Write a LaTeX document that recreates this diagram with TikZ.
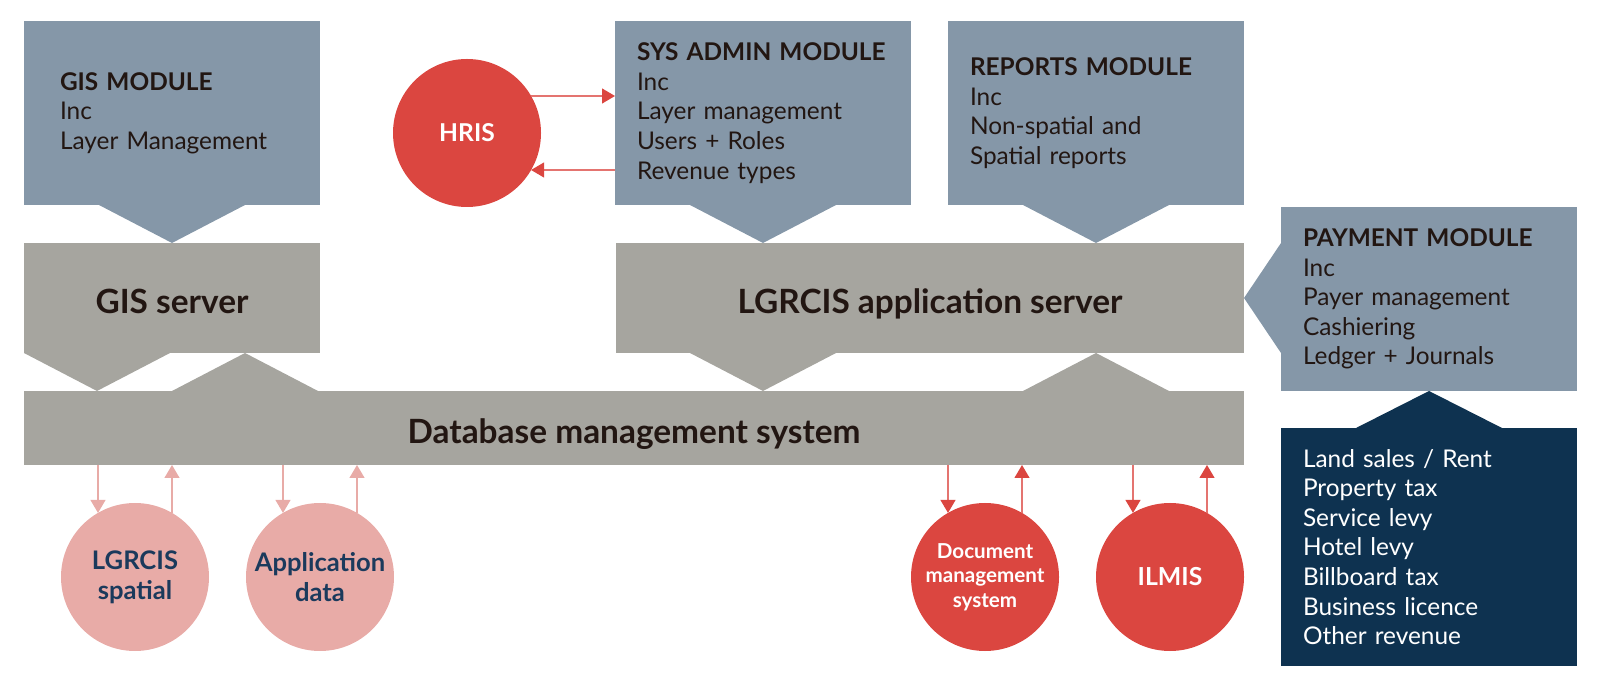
\documentclass[tikz,border=0pt]{standalone}
\usepackage{fontspec}
\setmainfont{Lato}
\usetikzlibrary{arrows.meta,positioning,calc}
\definecolor{lgblue}{HTML}{8597A8}
\definecolor{lggrey}{HTML}{A6A59F}
\definecolor{lgred}{HTML}{DB4640}
\definecolor{lgpink}{HTML}{E8ABA7}
\definecolor{lgnavy}{HTML}{0E3250}
\definecolor{lgink}{HTML}{221612}
\definecolor{lgpinkink}{HTML}{1B3A5C}
\newcommand{\modhead}[1]{\mbox{\bfseries #1}}

\begin{document}
\begin{tikzpicture}[x=0.5pt,y=-0.5pt,
  md/.style={rectangle,fill=lgblue,text=lgink,align=left,inner xsep=11pt,text width=126pt,minimum width=148pt,minimum height=92pt,outer sep=0pt,font=\fontsize{12.2}{14.8}\selectfont},
  sv/.style={rectangle,fill=lggrey,text=lgink,minimum height=55pt,outer sep=0pt,text height=16pt,text depth=0pt,font=\fontsize{16.7}{19}\selectfont\bfseries},
  bub/.style={circle,minimum size=74pt,inner sep=0pt,outer sep=0pt,align=center,font=\bfseries},
  rar/.style={-{Triangle[length=6.5pt,width=7.5pt,color=lgred]},line width=0.6pt,lgred!75},
  par/.style={-{Triangle[length=6.5pt,width=7.5pt]},line width=0.6pt,lgpink}]
  \useasboundingbox (0,0) rectangle (1600,683);
  % modules
  \node[md,inner xsep=18pt,text width=112pt] (gismod) at (172,113) {\modhead{GIS MODULE}\\Inc\\Layer Management};
  \node[md] (sysmod) at (763,113) {\modhead{SYS ADMIN MODULE}\\Inc\\Layer management\\Users + Roles\\Revenue types};
  \node[md] (repmod) at (1096,113) {\modhead{REPORTS MODULE}\\Inc\\Non-spatial and\\Spatial reports};
  \node[md] (paymod) at (1429,299) {\modhead{PAYMENT MODULE}\\Inc\\Payer management\\Cashiering\\Ledger + Journals};
  \node[md,fill=lgnavy,text=white,minimum height=119pt] (rev) at (1429,547) {Land sales / Rent\\Property tax\\Service levy\\Hotel levy\\Billboard tax\\Business licence\\Other revenue};
  % servers
  \node[sv,minimum width=148pt] (gissrv) at (172,298) {GIS server};
  \node[sv,minimum width=314pt] (appsrv) at (930,298) {LGRCIS application server};
  \node[sv,minimum width=610pt,minimum height=37pt] (db) at (634,428) {Database management system};
  % pointers
  \foreach \m/\s in {gismod/gissrv,sysmod/appsrv,repmod/appsrv}
    \fill[lgblue] ($(\m.south)+(-73,0)$) -- ($(\m.south)+(73,0)$) -- (\m.south |- \s.north) -- cycle;
  \foreach \cx in {97,763}
    \fill[lggrey] (\cx-73,353) -- (\cx+73,353) -- (\cx,391) -- cycle;
  \foreach \cx in {245,1096}
    \fill[lggrey] (\cx-73,391) -- (\cx+73,391) -- (\cx,353) -- cycle;
  \fill[lgblue] (paymod.west |- appsrv.north) -- (paymod.west |- appsrv.south) -- (appsrv.east) -- cycle;
  \fill[lgnavy] ($(rev.north)+(-73,0)$) -- ($(rev.north)+(73,0)$) -- (paymod.south) -- cycle;
  % systems
  \node[bub,fill=lgred,text=white,font=\fontsize{12.3}{15}\selectfont\bfseries] (hris) at (467,133) {HRIS};
  \node[bub,fill=lgpink,text=lgpinkink,font=\fontsize{12.8}{15}\selectfont\bfseries] (lgs) at (135,577) {LGRCIS\\spatial};
  \node[bub,fill=lgpink,text=lgpinkink,font=\fontsize{12.8}{15}\selectfont\bfseries] (appd) at (320,577) {Application\\data};
  \node[bub,fill=lgred,text=white,font=\fontsize{10.3}{12.3}\selectfont\bfseries] (dms) at (985,577) {Document\\management\\system};
  \node[bub,fill=lgred,text=white,font=\fontsize{12.4}{15}\selectfont\bfseries] (ilmis) at (1170,577) {ILMIS};
  % links
  \draw[rar] (hris.30) -- (hris.30 -| sysmod.west);
  \draw[rar] (hris.-30 -| sysmod.west) -- (hris.-30);
  \foreach \c in {lgs,appd} {
    \draw[par] (db.south -| \c.120) -- (\c.120);
    \draw[par] (\c.60) -- (\c.60 |- db.south);
  }
  \foreach \c in {dms,ilmis} {
    \draw[rar] (db.south -| \c.120) -- (\c.120);
    \draw[rar] (\c.60) -- (\c.60 |- db.south);
  }
\end{tikzpicture}
\end{document}
